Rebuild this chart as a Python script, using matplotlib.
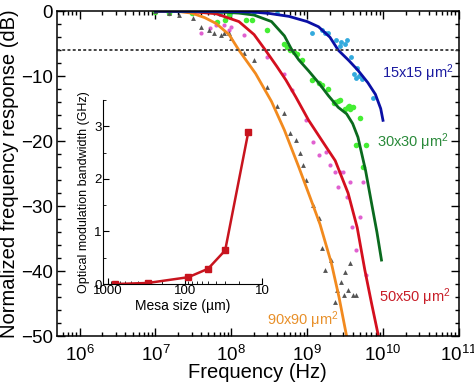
import numpy as np
import matplotlib
matplotlib.use("Agg")
import matplotlib.pyplot as plt
from matplotlib.ticker import MultipleLocator, LogLocator, NullFormatter

plt.rcParams['font.family'] = ['Liberation Sans', 'DejaVu Sans']
plt.rcParams['mathtext.fontset'] = 'custom'
plt.rcParams['mathtext.rm'] = 'Liberation Sans'

# fitted curves (log10 of frequency in Hz, response in dB)
blue_logf = [7.0, 8.0, 8.3, 8.5, 8.76, 9.0, 9.15, 9.3, 9.41, 9.55, 9.67, 9.8, 9.9, 9.97, 10.0]
blue_db = [0, -0.05, -0.15, -0.35, -0.8, -1.6, -2.4, -4.0, -6.0, -7.6, -9.1, -11.0, -12.8, -15.0, -16.8]

green_logf = [7.0, 7.8, 8.1, 8.3, 8.53, 8.7, 8.8, 8.89, 9.02, 9.15, 9.28, 9.41, 9.52, 9.6, 9.67, 9.77, 9.85, 9.92, 9.98]
green_db = [0, -0.1, -0.3, -0.6, -1.6, -3.8, -6.0, -7.5, -9.2, -11.0, -13.0, -14.8, -15.8, -17.3, -19.4, -24.5, -29.6, -34.0, -38.3]

red_logf = [7.0, 7.5, 7.8, 8.1, 8.3, 8.45, 8.6, 8.72, 8.85, 9.02, 9.2, 9.37, 9.54, 9.66, 9.76, 9.85, 9.94]
red_db = [0, -0.1, -0.4, -1.6, -3.6, -6.0, -8.5, -10.6, -13.2, -16.8, -20.0, -23.0, -28.0, -33.3, -39.8, -45.0, -50.0]

orange_logf = [7.0, 7.3, 7.48, 7.65, 7.8, 7.97, 8.1, 8.32, 8.53, 8.7, 8.89, 9.05, 9.17, 9.32, 9.42, 9.52]
orange_db = [0, -0.05, -0.3, -1.0, -1.9, -3.6, -6.0, -9.6, -13.9, -18.3, -24.0, -29.0, -32.8, -38.8, -44.0, -50.0]

# measured points
cyan_logf = [7.85, 8.0, 8.3, 8.6, 9.06, 9.19, 9.23, 9.27, 9.38, 9.45, 9.5, 9.52, 9.43, 9.58, 9.64, 9.62, 9.66, 9.69, 9.72, 9.87]
cyan_db = [-0.4, -0.2, -0.1, -0.3, -3.4, -2.9, -3.3, -3.4, -4.5, -4.8, -5.0, -4.5, -5.4, -7.1, -10.3, -9.6, -8.8, -10.0, -10.5, -13.4]

lime_logf = [7.0, 7.18, 7.48, 7.81, 7.92, 7.97, 8.19, 8.27, 8.47, 8.69, 8.73, 8.78, 8.82, 8.86, 8.93, 9.06, 9.15, 9.19, 9.28,
             9.37, 9.43, 9.5, 9.54, 9.57, 9.36, 9.41, 9.55, 9.6, 9.7, 9.65, 9.77, 9.74]
lime_db = [-0.2, -0.3, -0.3, -1.7, -1.4, -0.6, -1.4, -1.4, -2.9, -5.0, -5.5, -6.0, -6.3, -6.6, -7.5, -10.6, -11.0, -11.4, -11.9,
           -14.0, -13.7, -15.0, -14.8, -15.0, -14.1, -13.8, -14.6, -14.8, -16.5, -20.6, -20.6, -24.0]

pink_logf = [7.6, 7.72, 7.8, 7.9, 7.97, 8.0, 8.17, 8.47, 8.69, 8.8, 8.99, 9.08, 9.15, 9.25, 9.3, 9.37, 9.43, 9.47,
             9.57, 9.41, 9.52, 9.74, 9.7, 9.59, 9.65, 9.77]
pink_db = [-3.4, -2.6, -2.2, -2.1, -2.9, -2.5, -3.7, -7.1, -9.6, -12.2, -16.8, -20.1, -22.2, -21.7, -23.7, -24.8, -24.8, -24.8,
           -26.3, -27.0, -28.6, -26.3, -31.7, -33.2, -36.8, -40.6]

tri_logf = [7.0, 7.18, 7.31, 7.49, 7.6, 7.71, 7.77, 7.86, 7.9, 7.97, 8.0, 8.17, 8.3, 8.47, 8.6, 8.69, 8.78, 8.85, 8.91, 8.95,
            8.99, 9.08, 9.15, 9.19, 9.31, 9.24, 9.57, 9.5, 9.44, 9.39, 9.54, 9.48, 9.6, 9.65, 9.37]
tri_db = [0, -0.3, -0.6, -1.1, -2.4, -2.9, -3.4, -3.7, -3.4, -3.4, -4.2, -6.5, -7.5, -11.6, -14.6, -15.7, -18.8, -19.8, -21.9, -23.7,
          -26.0, -29.8, -31.8, -36.5, -38.3, -39.8, -38.8, -40.2, -41.7, -42.9, -42.9, -43.7, -43.7, -43.7, -44.8]

# inset: bandwidth vs mesa size
mesa_size = [800, 300, 90, 50, 30, 15]
bandwidth_ghz = [0.0, 0.02, 0.13, 0.29, 0.64, 2.9]

fig = plt.figure(figsize=(4.74, 3.85), dpi=100)
ax = fig.add_axes([0.12, 0.127, 0.848, 0.844])

ax.plot(np.power(10, cyan_logf), cyan_db, 'o', color='#33aadd', ms=3.5, mec='none')
ax.plot(np.power(10, lime_logf), lime_db, 'o', color='#44ee33', ms=4, mec='none')
ax.plot(np.power(10, pink_logf), pink_db, 'o', color='#e060d0', ms=3, mec='none')
ax.plot(np.power(10, tri_logf), tri_db, '^', color='#555555', ms=3.5, mec='none')

ax.plot(np.power(10, orange_logf), orange_db, color='#f28a1e', lw=2)
ax.plot(np.power(10, red_logf), red_db, color='#d40f1e', lw=2)
ax.plot(np.power(10, green_logf), green_db, color='#0a6a1e', lw=2)
ax.plot(np.power(10, blue_logf), blue_db, color='#0a0fa5', lw=2)

ax.axhline(-6, color='#444444', ls=(0, (1.5, 1.2)), lw=1.4)

ax.set_xscale('log')
ax.set_xlim(10 ** 5.7, 1e11)
ax.set_ylim(-50, 0)
ax.yaxis.set_major_locator(MultipleLocator(10))
ax.yaxis.set_minor_locator(MultipleLocator(2))
ax.xaxis.set_major_locator(LogLocator(base=10, numticks=12))
ax.xaxis.set_minor_locator(LogLocator(base=10, subs=np.arange(2, 10), numticks=12))
ax.xaxis.set_minor_formatter(NullFormatter())
ax.tick_params(which='both', direction='in', top=True, right=True, labelsize=13.5, width=1)
ax.tick_params(which='major', length=6)
ax.tick_params(which='minor', length=3)
ax.tick_params(axis='x', pad=6)
ax.tick_params(axis='y', pad=3)
for s in ax.spines.values():
    s.set_linewidth(1.1)
ax.set_xlabel('Frequency (Hz)', fontsize=14.5, labelpad=-1)
ax.set_ylabel('Normalized frequency response (dB)', fontsize=14.5, labelpad=1)

ax.text(10 ** 10.46, -9.6, r'15x15 $\mathrm{\mu m^2}$', color='#1a1aa0', fontsize=10.5, ha='center', va='center')
ax.text(10 ** 10.4, -20.2, r'30x30 $\mathrm{\mu m^2}$', color='#2a8a3a', fontsize=10.5, ha='center', va='center')
ax.text(10 ** 10.42, -44.0, r'50x50 $\mathrm{\mu m^2}$', color='#c81e28', fontsize=10.5, ha='center', va='center')
ax.text(10 ** 8.95, -47.6, r'90x90 $\mathrm{\mu m^2}$', color='#e8902a', fontsize=10.5, ha='center', va='center')

ins = fig.add_axes([0.2173, 0.2623, 0.3354, 0.478])
ins.plot(mesa_size, bandwidth_ghz, 's-', color='#c8141e', lw=1.8, ms=4)
ins.set_xscale('log')
ins.set_xlim(1150, 10)
ins.set_ylim(0, 3.5)
ins.spines['top'].set_visible(False)
ins.spines['right'].set_visible(False)
ins.patch.set_alpha(0)
ins.yaxis.set_major_locator(MultipleLocator(1))
ins.yaxis.set_minor_locator(MultipleLocator(0.5))
ins.xaxis.set_major_locator(LogLocator(base=10, numticks=5))
ins.xaxis.set_minor_locator(LogLocator(base=10, subs=np.arange(2, 10), numticks=5))
ins.xaxis.set_minor_formatter(NullFormatter())
ins.xaxis.set_major_formatter(matplotlib.ticker.FuncFormatter(lambda v, p: '%d' % v))
ins.tick_params(which='both', direction='in', labelsize=9.5, pad=1)
ins.tick_params(which='major', length=4)
ins.tick_params(which='minor', length=2)
ins.set_xlabel('Mesa size (\u00b5m)', fontsize=10, labelpad=1)
ins.set_ylabel('Optical modulation bandwidth (GHz)', fontsize=9, labelpad=3)

fig.savefig('out.png', dpi=100)
